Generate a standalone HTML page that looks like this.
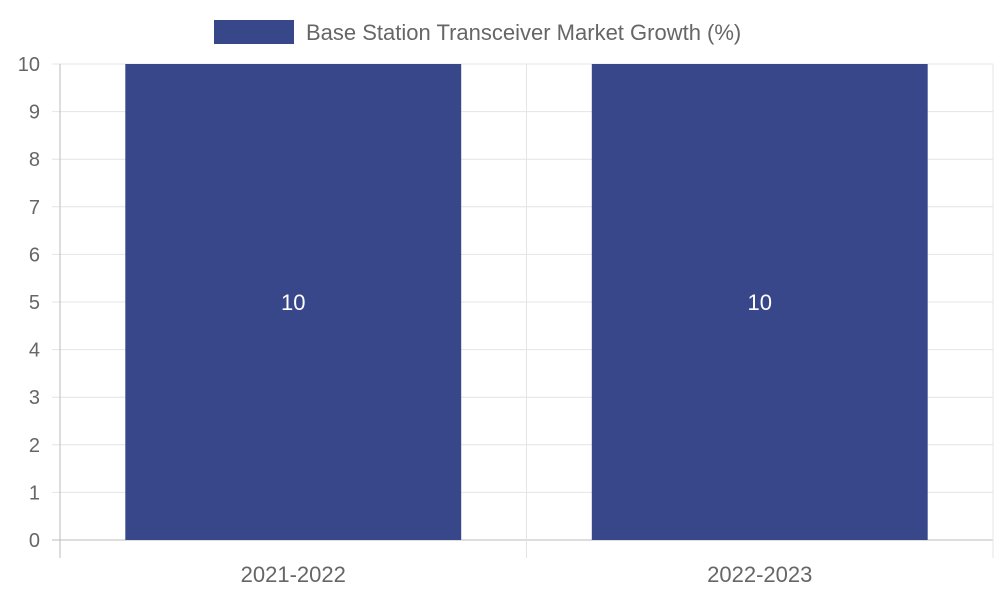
<!DOCTYPE html>
<html><head><meta charset="utf-8"><style>
body{margin:0;background:#fff;}
svg{display:block;font-family:"Liberation Sans",sans-serif;}
</style></head><body>
<svg id="chart" width="1000" height="600">
<g>
<rect x="214" y="20" width="80" height="24" fill="#38478a"/>
<text x="306" y="40" font-size="22" fill="#666">Base Station Transceiver Market Growth (%)</text>
</g>
<g id="grid"></g><g id="bars"></g><g id="axes"></g>
</svg>
<script>
const categories=["2021-2022","2022-2023"];
const values=[10,10];
const yTicks=[0,1,2,3,4,5,6,7,8,9,10];
const NS="http://www.w3.org/2000/svg";
const L=60,R=993,T=64,B=540,yMax=10;
const y=v=>B-(v/yMax)*(B-T);
const band=(R-L)/categories.length;
const x=i=>L+band*i;
function mk(tag,attrs,parent){const e=document.createElementNS(NS,tag);for(const k in attrs)e.setAttribute(k,attrs[k]);parent.appendChild(e);return e;}
const grid=document.getElementById('grid'),bars=document.getElementById('bars'),axes=document.getElementById('axes');
yTicks.forEach(t=>{
const ln=mk('line',{x1:L-8,x2:R,y1:y(t),y2:y(t),stroke:t===0?'#bbb':'#e4e4e4','stroke-width':1},grid);


const tx=mk('text',{x:L-20,y:y(t)+7,'text-anchor':'end','font-size':20,fill:'#666'},axes);
tx.textContent=t;


});
for(let i=0;i<=categories.length;i++){
const ln=mk('line',{x1:x(i),x2:x(i),y1:T,y2:B+18,stroke:i===0?'#bbb':'#e4e4e4','stroke-width':1},grid);


}
categories.forEach((c,i)=>{
const bw=band*0.72,bx=x(i)+(band-bw)/2;
const r=mk('rect',{x:bx,y:y(values[i]),width:bw,height:B-y(values[i]),fill:'#38478a'},bars);


const v=mk('text',{x:x(i)+band/2,y:(y(values[i])+B)/2+8,'text-anchor':'middle','font-size':22,fill:'#fff'},bars);
v.textContent=values[i];


const t=mk('text',{x:x(i)+band/2,y:582,'text-anchor':'middle','font-size':22,fill:'#666'},axes);
t.textContent=c;


});
</script>
</body></html>
